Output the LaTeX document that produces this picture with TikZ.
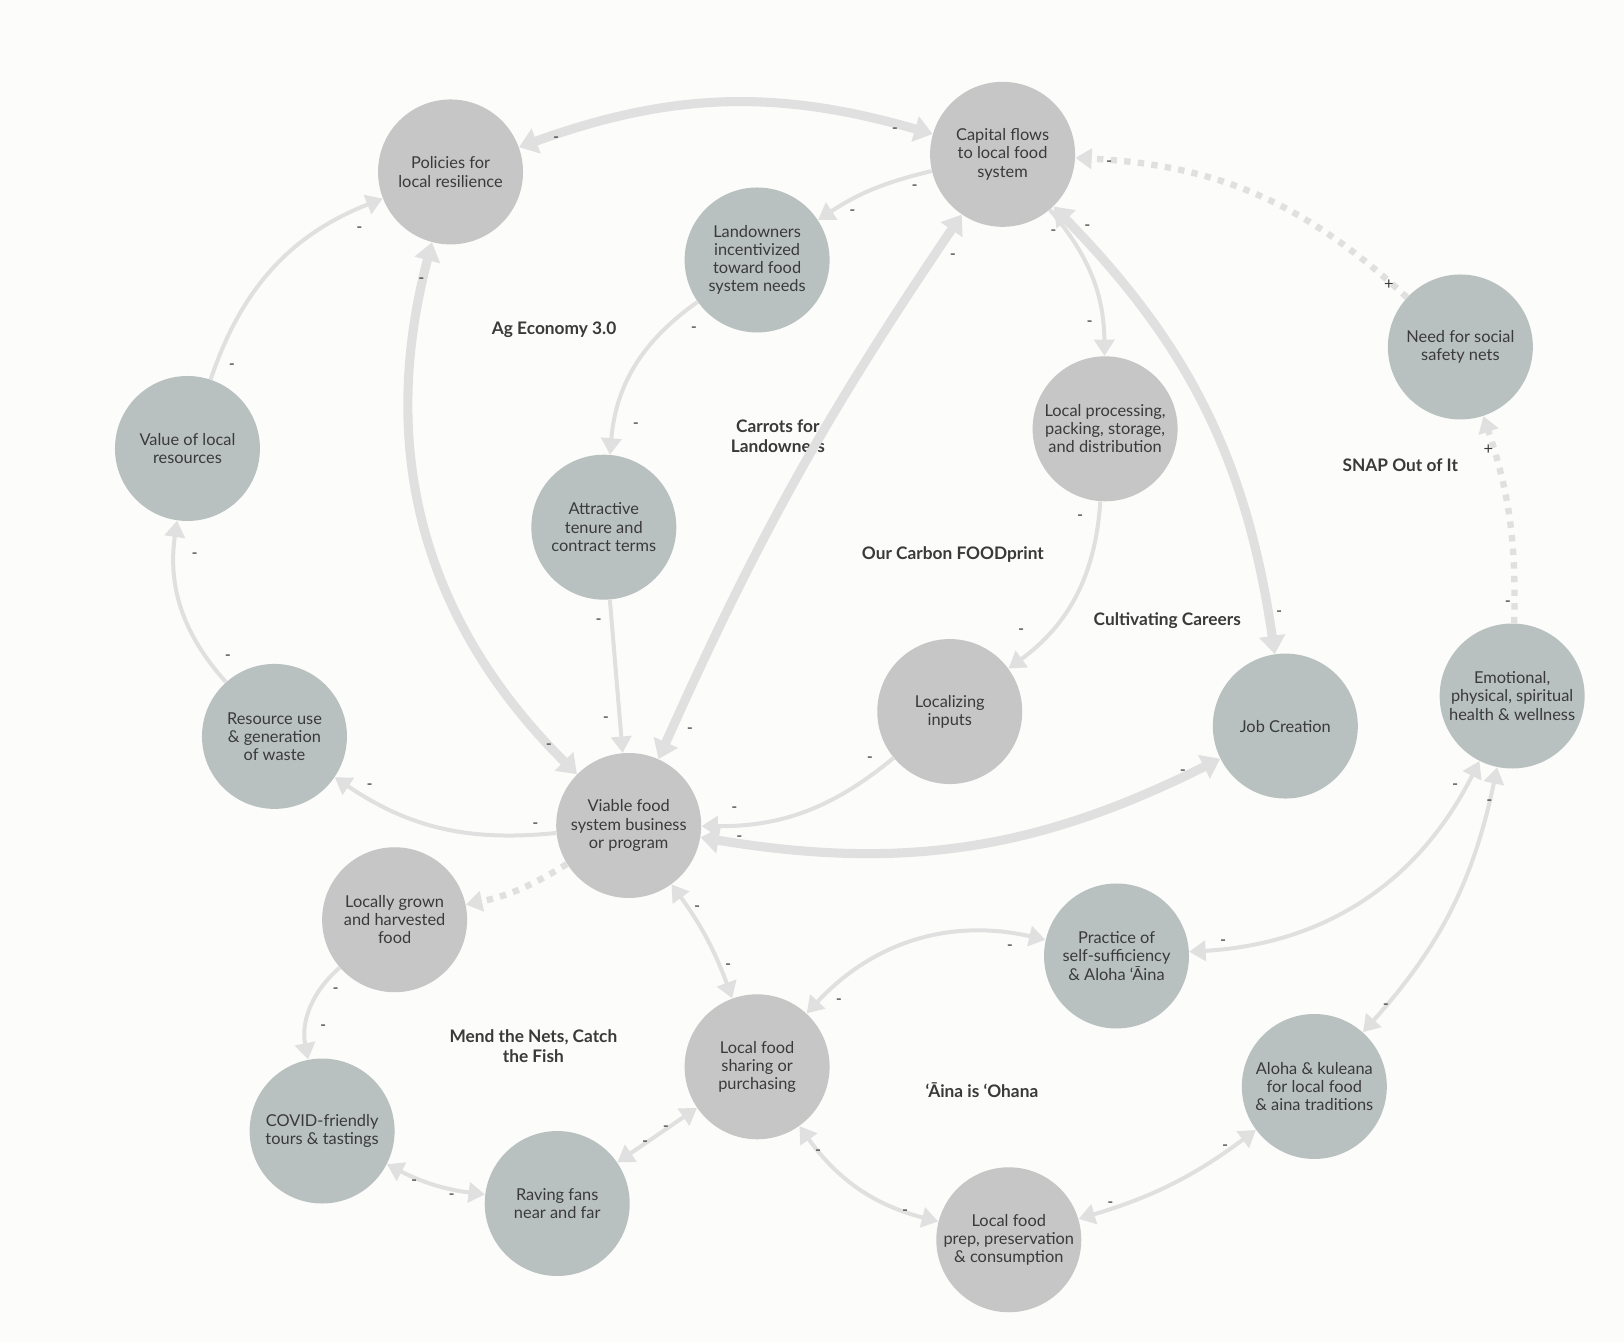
\documentclass[tikz,border=0pt]{standalone}
\usepackage{fontspec}
\setmainfont{Lato}
\usetikzlibrary{arrows.meta}
\definecolor{bg}{HTML}{FCFCFA}
\definecolor{cg}{HTML}{C6C6C6}
\definecolor{cb}{HTML}{B9C1C0}
\definecolor{ar}{HTML}{E0E0E0}
\definecolor{tx}{HTML}{3A3A3A}
\tikzset{
 x=0.02cm,y=-0.02cm,
 circ/.style={circle,minimum size=2.8cm,inner sep=0pt,align=center,font=\fontsize{9}{10}\selectfont,text=tx},
 gn/.style={circ,fill=cg},
 bn/.style={circ,fill=cb},
 lab/.style={font=\bfseries\fontsize{9.5}{11}\selectfont,text=tx,align=center},
 sg/.style={font=\fontsize{9}{10}\selectfont,text=tx,inner sep=0pt},
 thin/.style={draw=ar,line width=2.2pt,-{Triangle[length=9pt,width=11pt]}},
 thinb/.style={thin,{Triangle[length=9pt,width=11pt]}-{Triangle[length=9pt,width=11pt]}},
 thk/.style={draw=ar,line width=5pt,{Triangle[length=10pt,width=14pt]}-{Triangle[length=10pt,width=14pt]}},
 dot/.style={draw=ar,line width=3.5pt,dash pattern=on 3.5pt off 4pt,-{Triangle[length=9pt,width=11pt]}},
}
\begin{document}
\begin{tikzpicture}
\fill[bg] (0,0) rectangle (1568,1296);
\useasboundingbox (0,0) rectangle (1568,1296);
\node[gn] (policies) at (435,166) {Policies for\\local resilience};
\node[gn] (capital) at (968,149) {Capital flows\\to local food\\system};
\node[bn] (landowners) at (731,251) {Landowners\\incentivized\\toward food\\system needs};
\node[bn] (social) at (1410,335) {Need for social\\safety nets};
\node[bn] (value) at (181,433) {Value of local\\resources};
\node[gn] (proc) at (1067,414) {Local processing,\\packing, storage,\\and distribution};
\node[bn] (attr) at (583,509) {Attractive\\tenure and\\contract terms};
\node[bn] (resource) at (265,711) {Resource use\\\& generation\\of waste};
\node[gn] (localizing) at (917,687) {Localizing\\inputs};
\node[bn] (job) at (1241,701) {Job Creation};
\node[bn] (emo) at (1460,672) {Emotional,\\physical, spiritual\\health \& wellness};
\node[gn] (viable) at (607,797) {Viable food\\system business\\or program};
\node[gn] (grown) at (381,888) {Locally grown\\and harvested\\food};
\node[bn] (practice) at (1078,923) {Practice of\\self-sufficiency\\\& Aloha ‘Āina};
\node[gn] (sharing) at (731,1030) {Local food\\sharing or\\purchasing};
\node[bn] (aloha) at (1269,1049) {Aloha \& kuleana\\for local food\\\& aina traditions};
\node[bn] (covid) at (311,1092) {COVID-friendly\\tours \& tastings};
\node[bn] (raving) at (538,1162) {Raving fans\\near and far};
\node[gn] (prep) at (974,1197) {Local food\\prep, preservation\\\& consumption};

\node[lab] (l1) at (535,318) {Ag Economy 3.0};
\node[lab] (l2) at (751,421) {Carrots for\\Landowners};
\node[lab] (l3) at (920,535) {Our Carbon FOODprint};
\node[lab] (l4) at (1127,599) {Cultivating Careers};
\node[lab] (l5) at (1352,449) {SNAP Out of It};
\node[lab] (l6) at (515,1010) {Mend the Nets, Catch\\the Fish};
\node[lab] (l7) at (948,1053) {‘Āina is ‘Ohana};

\draw[thk] (policies) to[bend left=18] (capital);
\draw[thk] (policies) to[bend right=30] (viable);
\draw[thk] (capital) to[bend right=5] (viable);
\draw[thk] (capital) to[bend left=18] (job);
\draw[thk] (viable) to[bend right=18] (job);
\draw[thin] (capital) to[bend right=10] (landowners);
\draw[thin] (landowners) to[bend right=25] (attr);
\draw[thin] (attr) -- (viable);
\draw[thin] (capital) to[bend left=20] (proc);
\draw[thin] (proc) to[bend left=25] (localizing);
\draw[thin] (localizing) to[bend left=20] (viable);
\draw[thin] (viable) to[bend left=20] (resource);
\draw[thin] (resource) to[bend left=25] (value);
\draw[thin] (value) to[bend left=25] (policies);
\draw[dot] (viable) to[bend left=10] (grown);
\draw[thin] (grown) to[bend right=30] (covid);
\draw[thinb] (covid) to[bend right=10] (raving);
\draw[thinb] (raving) -- (sharing);
\draw[thinb] (sharing) to[bend right=8] (viable);
\draw[thinb] (sharing) to[bend left=30] (practice);
\draw[thinb] (practice) to[bend right=30] (emo);
\draw[thinb] (emo) to[bend left=15] (aloha);
\draw[thinb] (aloha) to[bend left=10] (prep);
\draw[thinb] (prep) to[bend left=20] (sharing);
\draw[dot] (social) to[bend right=20] (capital);
\draw[dot] (emo) to[bend right=10] (social);

\foreach \x/\y [count=\i] in {537/135,864/126,883/181,823/205,1071/158,1050/220,1017/225,347/222,407/271,920/248,670/318,614/411,224/354,1052/313,188/537,1043/500,220/635,578/600,986/610,1235/593,1456/583,585/695,530/721,666/706,840/734,1142/746,357/760,517/797,709/782,714/810,1405/760,1438/775,673/877,703/933,975/915,1181/910,810/967,324/957,312/992,1338/972,643/1090,623/1104,790/1113,1183/1108,400/1142,436/1155,874/1171,1072/1163}
  \node[sg] (m\i) at (\x,\y) {-};
\node[sg] (p1) at (1341,275) {+};
\node[sg] (p2) at (1437,434) {+};
\end{tikzpicture}
\end{document}
